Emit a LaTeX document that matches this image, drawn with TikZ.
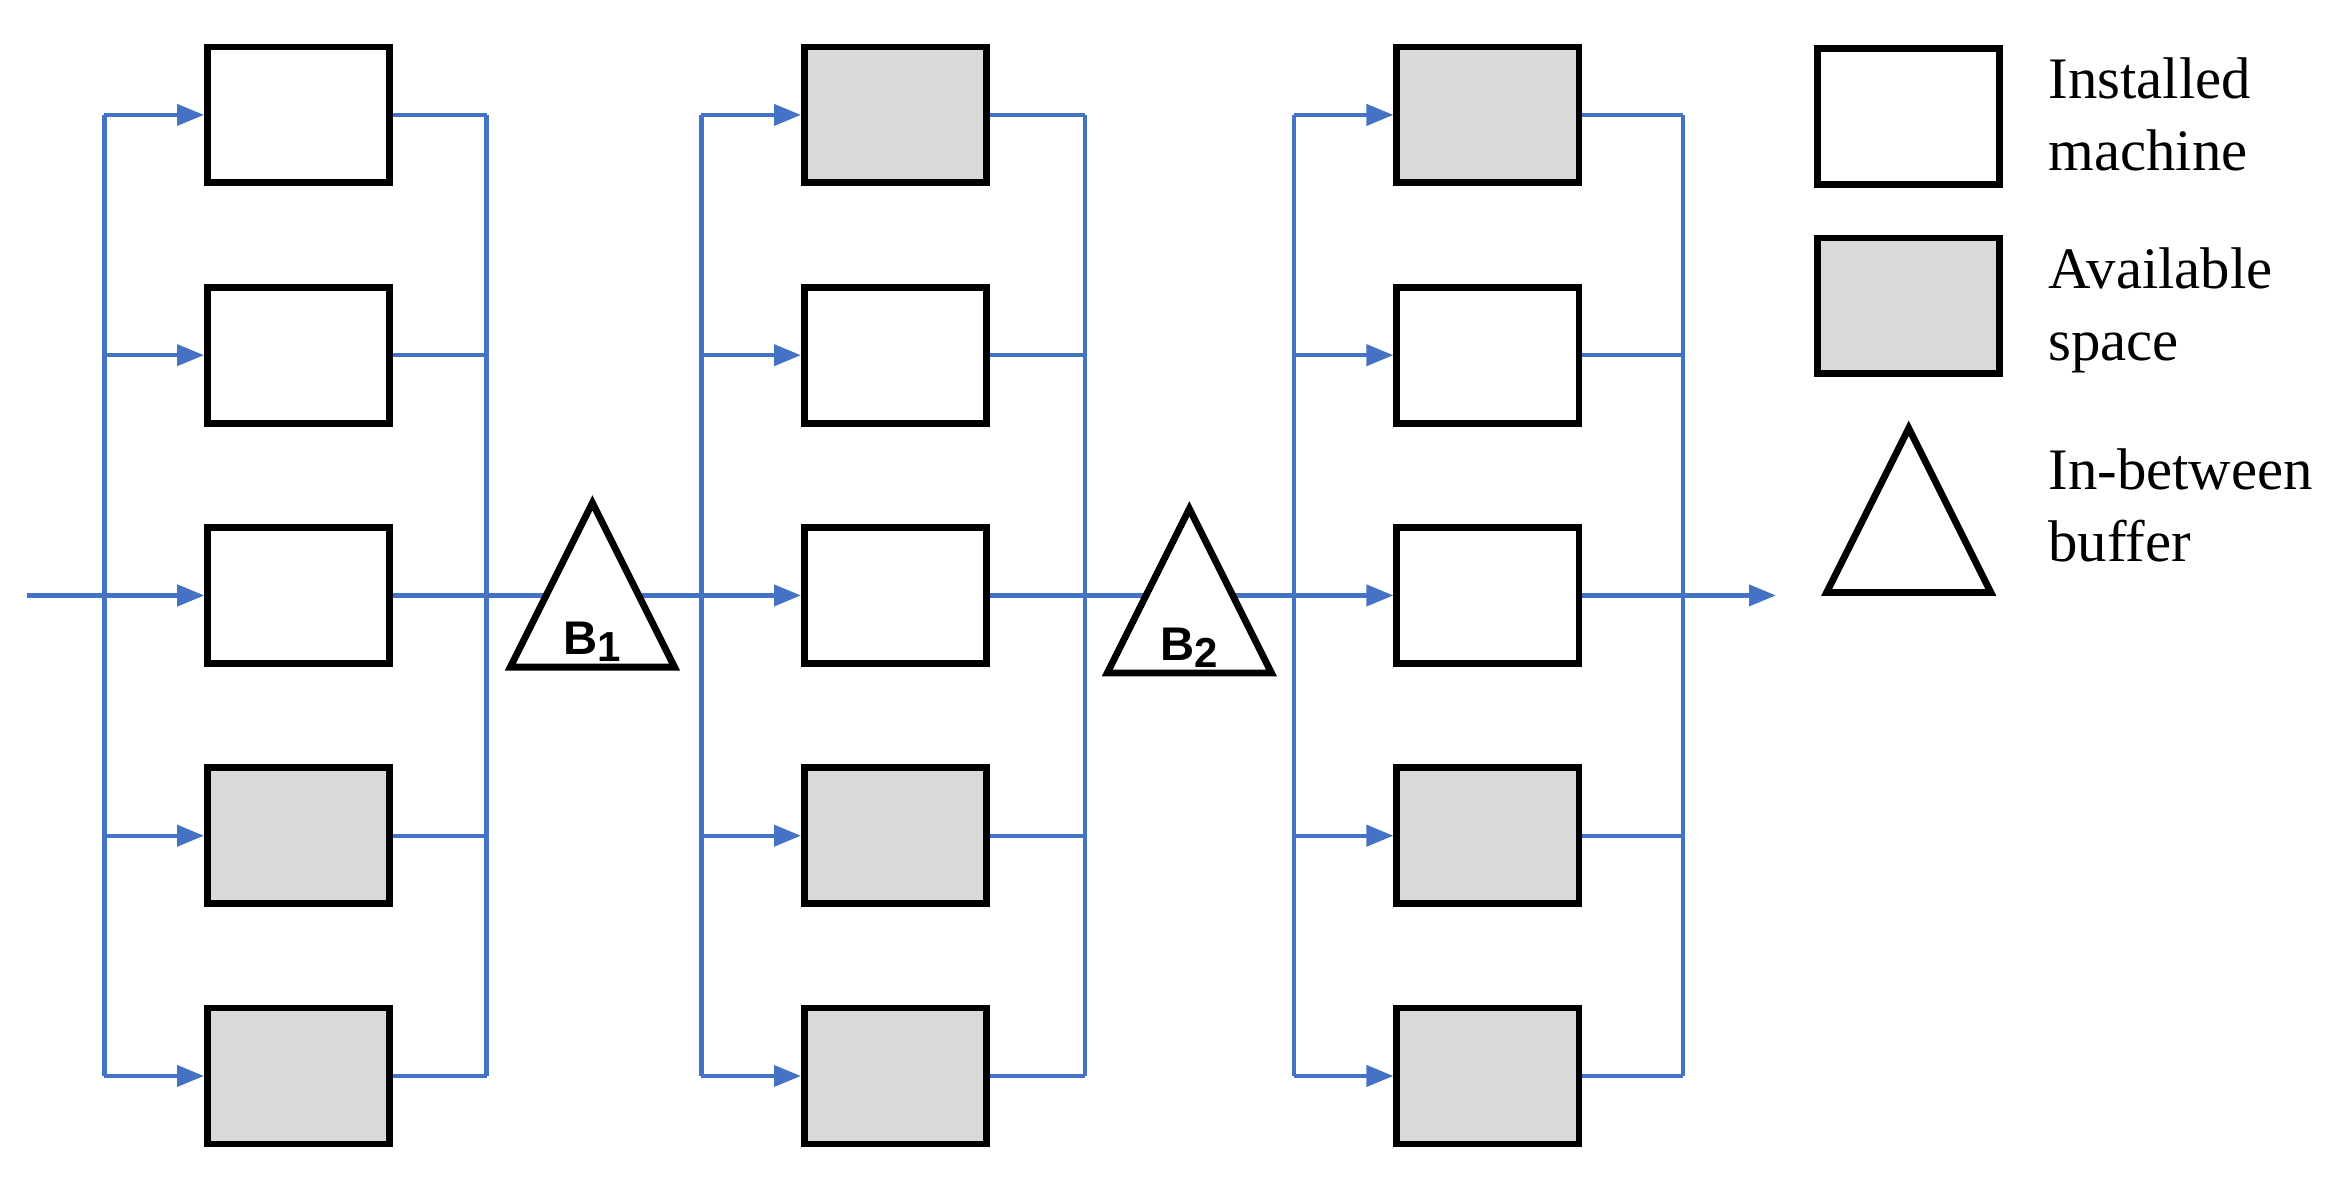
\documentclass[tikz,border=0pt]{standalone}
\usepackage{fontspec}
\setmainfont{Liberation Serif}
\setsansfont{Liberation Sans}
\usetikzlibrary{positioning,arrows.meta,shapes.geometric,backgrounds}
\definecolor{flow}{RGB}{68,114,196}
\definecolor{spot}{RGB}{217,217,217}
\begin{document}
\begin{tikzpicture}[x=0.01cm,y=-0.01cm,
  inst/.style={draw=black,line width=1.3pt,fill=white,minimum width=1.22cm,minimum height=0.91cm,inner sep=0pt},
  avail/.style={inst,fill=spot},
  buf/.style={draw=black,line width=1.3pt,fill=white,isosceles triangle,isosceles triangle stretches,shape border rotate=90,minimum width=1.1cm,minimum height=1.1cm,inner sep=0pt},
  pipe/.style={draw=flow,line width=0.8pt},
  feed/.style={pipe,-{Triangle[length=1.8mm,width=1.4mm]}},
  txt/.style={align=left,anchor=north west,font=\fontsize{11.2}{13.8}\selectfont,inner sep=0pt}]
\useasboundingbox (0,0) rectangle (1568,794);
% stages
\foreach \c/\x/\kinds in {1/200/{inst,inst,inst,avail,avail},2/600/{avail,inst,inst,avail,avail},3/997/{avail,inst,inst,avail,avail}}{
  \foreach \k [count=\r] in \kinds{
    \pgfmathsetmacro{\y}{77+161*(\r-1)}
    \node[\k] (m\c\r) at (\x,\y) {};
  }
}
% rails
\foreach \c/\xl/\xr in {1/70/326,2/470/727,3/867/1128}{
  \foreach \r in {1,...,5}{
    \coordinate (l\c\r) at (\xl,0 |- m\c\r.west);
    \coordinate (r\c\r) at (\xr,0 |- m\c\r.east);
    \draw[feed] (l\c\r) -- (m\c\r.west);
    \draw[pipe] (m\c\r.east) -- (r\c\r);
  }
  \draw[pipe] (l\c1) -- (l\c5);
  \draw[pipe] (r\c1) -- (r\c5);
}
% buffers
\node[buf,label={[yshift=-0.17cm]center:\sffamily\bfseries\small B\raisebox{-0.25ex}{\footnotesize 1}}] (b1) at (397,413) {};
\node[buf,label={[yshift=-0.17cm]center:\sffamily\bfseries\small B\raisebox{-0.25ex}{\footnotesize 2}}] (b2) at (797,417) {};
\coordinate (in) at (18,399);
\coordinate (out) at (1190,399);
\draw[feed] (in) -- (m13.west);
\begin{scope}[on background layer]
\draw[pipe] (r13) -- (b1 |- r13) -- (l23);
\draw[pipe] (r23) -- (b2 |- r23) -- (l33);
\end{scope}
\draw[feed] (m33.east) -- (out);
% legend
\node[inst] (key1) at (1279,78) {};
\node[avail] (key2) at (1279,205) {};
\node[buf] (key3) at (1279,363) {};
\node[txt] (t1) at (1372,38) {Installed\\machine};
\node[txt] (t2) at (1372,165) {Available\\space};
\node[txt] (t3) at (1372,300) {In-between\\buffer};
\end{tikzpicture}
\end{document}
